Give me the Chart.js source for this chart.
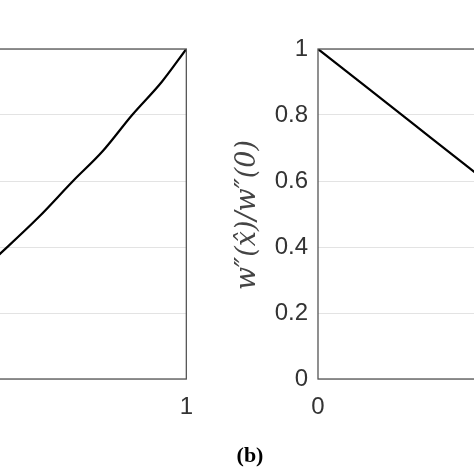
<!DOCTYPE html>
<html>
<head>
<script src="https://cdn.jsdelivr.net/npm/chart.js@4"></script>
<style>
  body { margin: 0; width: 474px; height: 474px; overflow: hidden; position: relative; background: #fff; }
  .box { position: absolute; top: 0; height: 474px; }
  #ylab { position: absolute; left: 245px; top: 215px; transform: translate(-50%, -50%) rotate(-90deg);
          font-family: "DejaVu Serif", serif; font-style: italic; font-size: 27px; color: #444; white-space: nowrap; }
  #cap { position: absolute; left: 250px; top: 455px; transform: translate(-50%, -50%);
         font-family: "Liberation Serif", serif; font-weight: bold; font-size: 22px; }
</style>
</head>
<body>
<div class="box" style="left:-100px;width:307px"><canvas id="leftChart"></canvas></div>
<div class="box" style="left:260px;width:320px"><canvas id="rightChart"></canvas></div>
<div id="ylab">w″(x̂)/w″(0)</div>
<div id="cap">(b)</div>
<script>
const leftX = [0, 0.1, 0.23, 0.4, 0.54, 0.66, 0.78, 0.9, 1];
const leftY = [0.21, 0.28, 0.37, 0.49, 0.6, 0.69, 0.8, 0.9, 1];
const rightX = [0, 0.2, 0.4, 0.6, 0.8, 1];
const rightY = [1, 0.885, 0.77, 0.655, 0.54, 0.425];
const yTicks = [0, 0.2, 0.4, 0.6, 0.8, 1];

const frame = {
  id: "frame",
  afterDraw(chart) {
    const a = chart.chartArea, ctx = chart.ctx;
    ctx.save();
    ctx.strokeStyle = "#555";
    ctx.lineWidth = 1.3;
    ctx.strokeRect(a.left, a.top, a.right - a.left, a.bottom - a.top);
    ctx.restore();
  }
};

function makeChart(id, xs, ys, showY) {
  new Chart(document.getElementById(id), {
    type: "line",
    data: {
      datasets: [{
        data: xs.map((x, i) => ({ x: x, y: ys[i] })),
        borderColor: "#000",
        borderWidth: 2.2,
        pointRadius: 0,
        cubicInterpolationMode: "monotone",
        fill: false
      }]
    },
    options: {
      responsive: true,
      maintainAspectRatio: false,
      animation: false,
      layout: { padding: { top: 49, right: 0 } },
      plugins: { legend: { display: false }, tooltip: { enabled: false } },
      scales: {
        x: {
          type: "linear", min: 0, max: 1,
          afterBuildTicks: s => { s.ticks = [{ value: 0 }, { value: 1 }]; },
          afterFit: s => { s.height = 95; },
          grid: { display: false, drawTicks: false },
          border: { display: false },
          ticks: { color: "#333", padding: 14, font: { family: "Liberation Sans", size: 24 },
                   callback: v => String(v) }
        },
        y: {
          min: 0, max: 1,
          afterBuildTicks: s => { s.ticks = yTicks.map(v => ({ value: v })); },
          afterFit: s => { s.width = showY ? 58 : 40; },
          grid: { color: "#e3e3e3", drawTicks: false },
          border: { display: false },
          ticks: { display: showY, color: "#333", padding: 10, font: { family: "Liberation Sans", size: 24 },
                   callback: v => String(v) }
        }
      }
    },
    plugins: [frame]
  });
}

makeChart("leftChart", leftX, leftY, false);
makeChart("rightChart", rightX, rightY, true);
</script>
</body>
</html>
